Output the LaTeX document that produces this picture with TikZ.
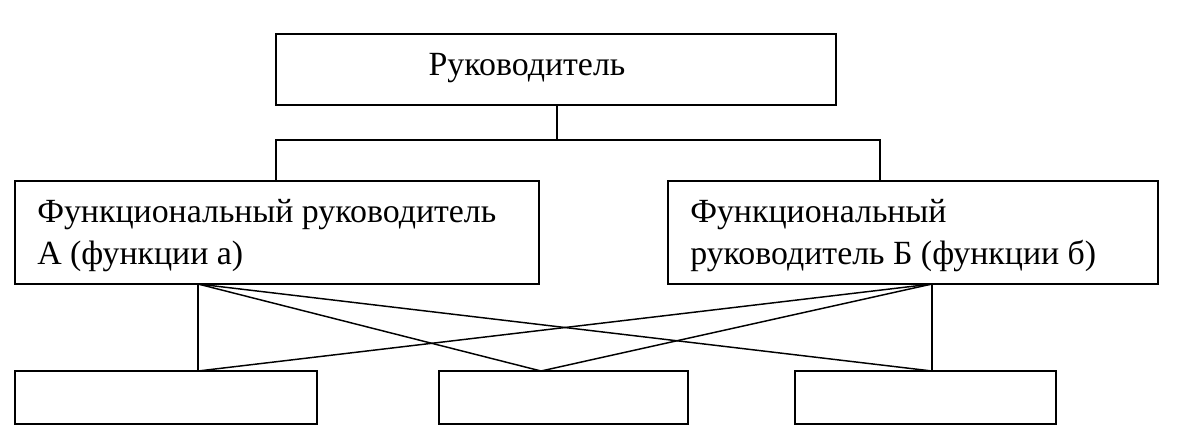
\documentclass[tikz,border=0pt]{standalone}
\usepackage{fontspec}
\setmainfont{Liberation Serif}
\begin{document}
\begin{tikzpicture}[x=0.75pt,y=-0.75pt,
  box/.style={draw,line width=1.5pt,inner sep=0pt},
  lbl/.style={font=\fontsize{25.4pt}{31.5pt}\selectfont,anchor=west,align=left,inner sep=0pt},
  ln/.style={line width=1.1pt}]
\useasboundingbox (0,0) rectangle (1185,444);
\node[box,minimum width=560*0.75pt,minimum height=71*0.75pt] (top) at (556,69.5) {};
\node[font=\fontsize{25.4pt}{30pt}\selectfont] (toptxt) at (527,68) {Руководитель};
\node[box,minimum width=524*0.75pt,minimum height=103*0.75pt] (fa) at (277,232.5) {};
\node[lbl] (fatxt) at (37,236) {Функциональный руководитель\\А (функции а)};
\node[box,minimum width=490*0.75pt,minimum height=103*0.75pt] (fb) at (913,232.5) {};
\node[lbl] (fbtxt) at (690,236) {Функциональный\\руководитель Б (функции б)};
\node[box,minimum width=302*0.75pt,minimum height=53*0.75pt] (b1) at (166,397.5) {};
\node[box,minimum width=249*0.75pt,minimum height=53*0.75pt] (b2) at (563.5,397.5) {};
\node[box,minimum width=261*0.75pt,minimum height=53*0.75pt] (b3) at (925.5,397.5) {};
\coordinate (tb) at (557,105);
\coordinate (j) at (557,140);
\coordinate (jl) at (276,140);
\coordinate (jr) at (880,140);
\coordinate (fat) at (276,181);
\coordinate (fbt) at (880,181);
\coordinate (fab) at (198,284);
\coordinate (fbb) at (932,284);
\coordinate (b1t) at (198,371);
\coordinate (b2t) at (541,371);
\coordinate (b3t) at (932,371);
\draw[ln] (tb) -- (j);
\draw[ln] (fat) -- (jl) -- (jr) -- (fbt);
\draw[ln] (fab) -- (b1t);
\draw[ln] (fab) -- (b2t);
\draw[ln] (fab) -- (b3t);
\draw[ln] (fbb) -- (b3t);
\draw[ln] (fbb) -- (b2t);
\draw[ln] (fbb) -- (b1t);
\end{tikzpicture}
\end{document}
